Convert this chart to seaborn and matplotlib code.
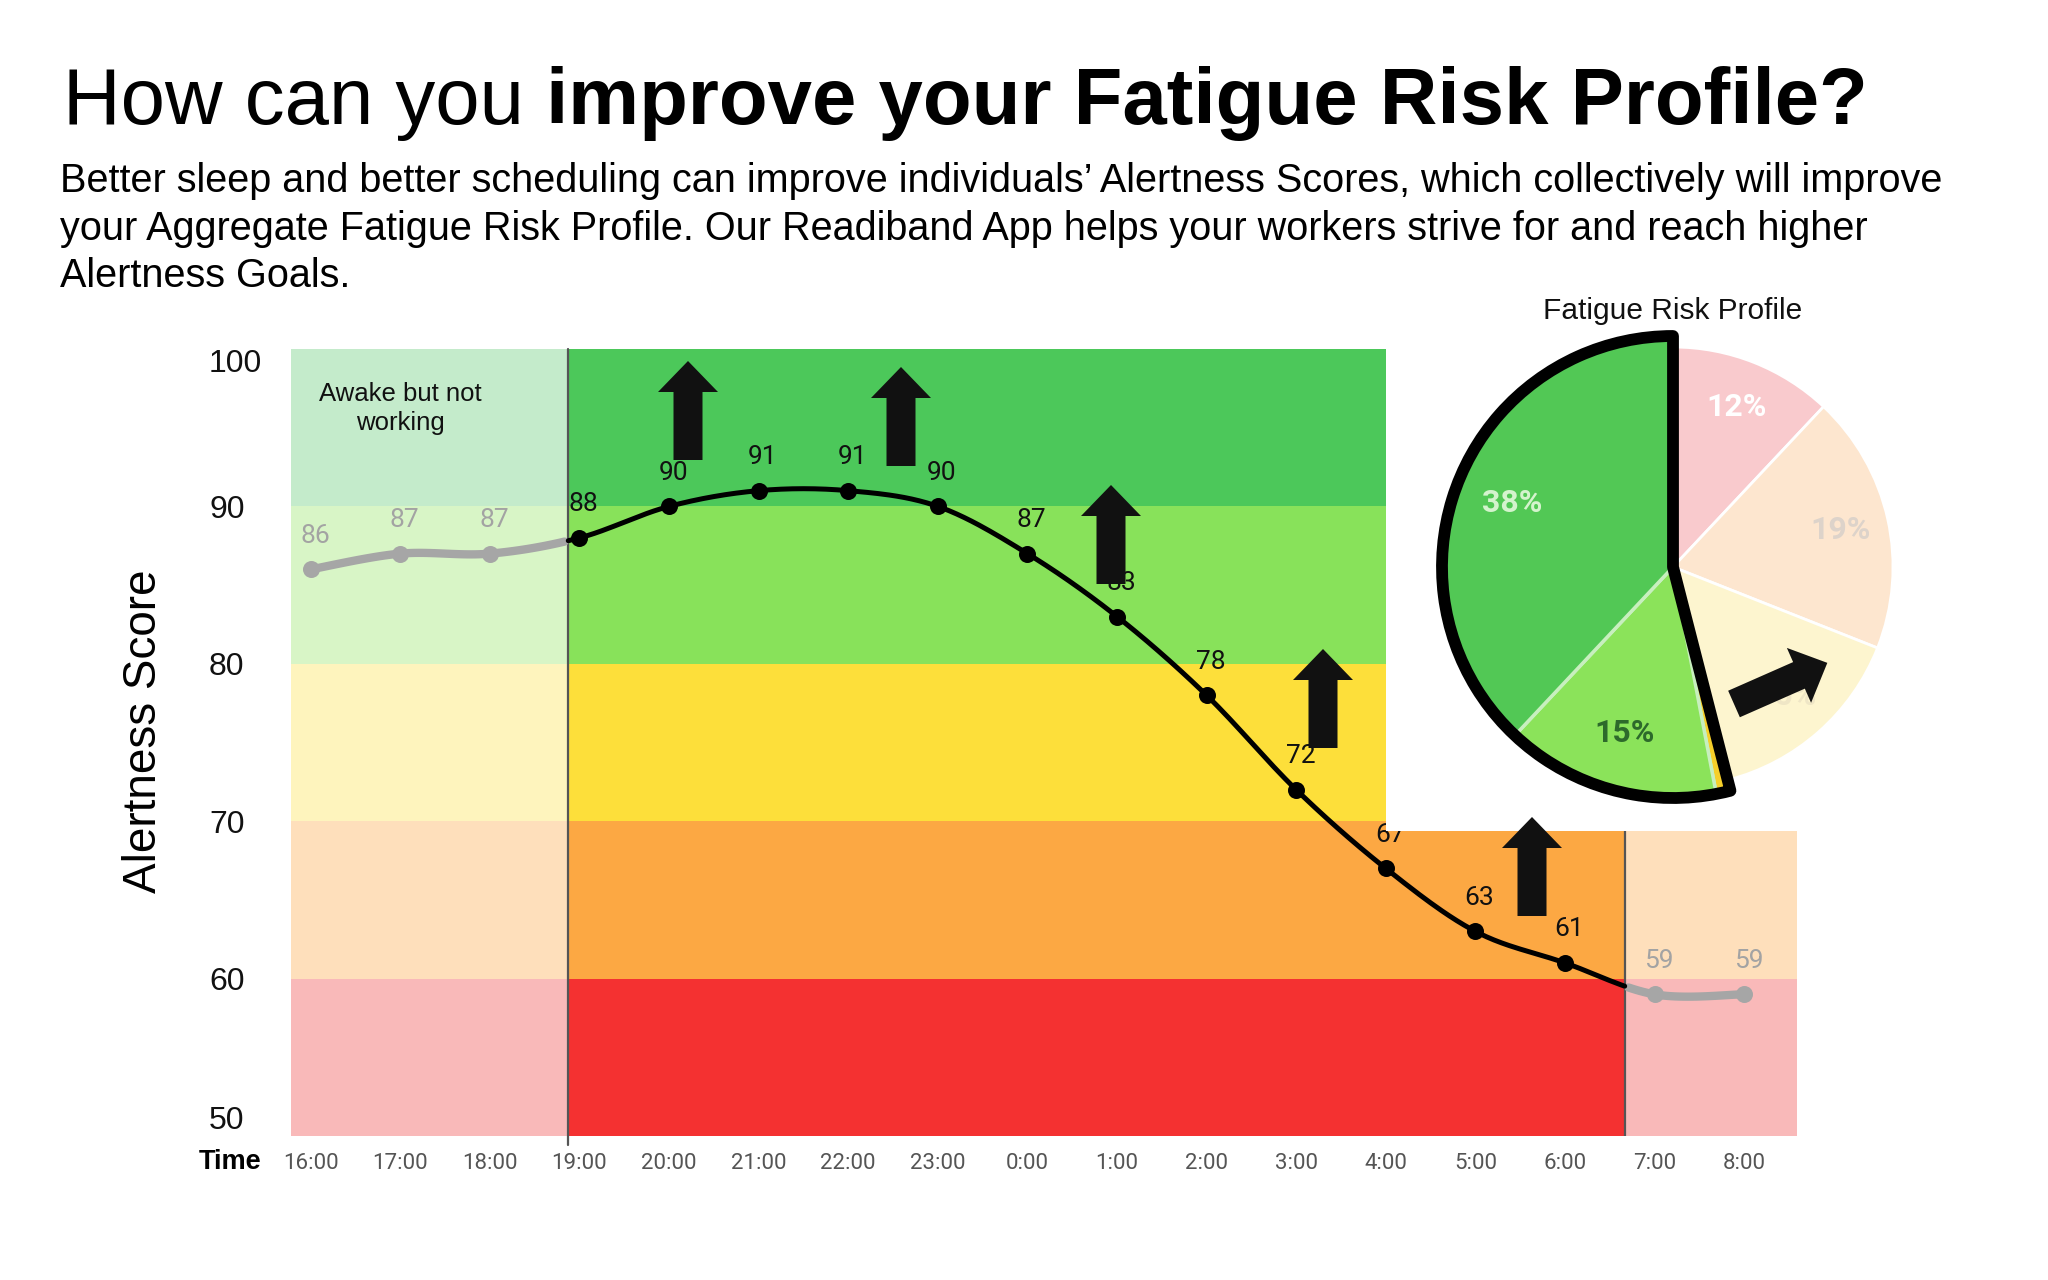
import numpy as np
import matplotlib
matplotlib.use("Agg")
import matplotlib.pyplot as plt
import seaborn as sns
from matplotlib import font_manager
from matplotlib.patches import Wedge, FancyArrow, Rectangle

# ---- data ----
times = ['16:00', '17:00', '18:00', '19:00', '20:00', '21:00', '22:00', '23:00', '0:00',
         '1:00', '2:00', '3:00', '4:00', '5:00', '6:00', '7:00', '8:00']
scores = [86, 87, 87, 88, 90, 91, 91, 90, 87, 83, 78, 72, 67, 63, 61, 59, 59]
band_edges = [50, 60, 70, 80, 90, 100]
band_strong = ['#f43131', '#fca843', '#fddf3a', '#88e25a', '#4cc85a']
band_pale = ['#f9b9b9', '#fedfbb', '#fef4bd', '#d8f5c6', '#c4ebcb']
pie_values = [12, 19, 15, 1, 15, 38]
pie_pale = ['#f9cacd', '#fde6cf', '#fdf5cf', '#fdf5cf', '#fdf5cf', '#fdf5cf']
pie_hi = ['none', 'none', 'none', '#f6cf2a', '#8be35a', '#52c855']
shift_start, shift_end = 2.87, 14.67   # shift boundaries (18:52 / 6:40)

sns.set_theme(style='white')
names = {f.name for f in font_manager.fontManager.ttflist}
plt.rcParams['font.family'] = ['Liberation Sans', 'DejaVu Sans']
NARROW = 'Liberation Sans Narrow' if 'Liberation Sans Narrow' in names else 'Roboto'

W, H = 2048, 1280
fig = plt.figure(figsize=(W / 100, H / 100), dpi=100)


def frac(l, t, r, b):
    return [l / W, 1 - b / H, (r - l) / W, (b - t) / H]


def smooth(xv, yv, n=24):
    # Catmull-Rom curve through the points, only for drawing the line
    pts = np.column_stack([xv, yv]).astype(float)
    p = np.vstack([pts[0], pts, pts[-1]])
    t = np.linspace(0, 1, n, endpoint=False)[:, None]
    out = []
    for i in range(1, len(p) - 2):
        p0, p1, p2, p3 = p[i - 1], p[i], p[i + 1], p[i + 2]
        out.append(0.5 * (2 * p1 + (-p0 + p2) * t + (2 * p0 - 5 * p1 + 4 * p2 - p3) * t ** 2
                          + (-p0 + 3 * p1 - 3 * p2 + p3) * t ** 3))
    out.append(pts[-1:])
    return np.vstack(out)


# ---- main chart ----
ax = fig.add_axes(frac(291, 349, 1797, 1136))
x = np.arange(len(times))
y = np.array(scores)
xmin, xmax = -0.22, 16.59
ax.set_xlim(xmin, xmax)
ax.set_ylim(50, 100)

for lo, hi, cs, cp in zip(band_edges[:-1], band_edges[1:], band_strong, band_pale):
    ax.fill_between([xmin, shift_start], lo, hi, color=cp, lw=0, zorder=0)
    ax.fill_between([shift_start, shift_end], lo, hi, color=cs, lw=0, zorder=0)
    ax.fill_between([shift_end, xmax], lo, hi, color=cp, lw=0, zorder=0)

ax.plot([shift_start, shift_start], [49.4, 100], color='#555555', lw=1.6, clip_on=False, zorder=2)
ax.plot([shift_end, shift_end], [50, 100], color='#555555', lw=1.6, zorder=2)

curve = smooth(x, y)
cx, cy = curve[:, 0], curve[:, 1]
work = (cx >= shift_start) & (cx <= shift_end)
left = cx <= shift_start
right = cx >= shift_end
sns.lineplot(x=cx[left], y=cy[left], ax=ax, color='#a6a6a6', lw=6, zorder=3)
sns.lineplot(x=cx[right], y=cy[right], ax=ax, color='#a6a6a6', lw=6, zorder=3)
sns.lineplot(x=cx[work], y=cy[work], ax=ax, color='black', lw=3.6, sort=False, zorder=3)

on_shift = (x > shift_start) & (x < shift_end)
sns.scatterplot(x=x[~on_shift], y=y[~on_shift], ax=ax, color='#a6a6a6', s=150, linewidth=0, zorder=4)
sns.scatterplot(x=x[on_shift], y=y[on_shift], ax=ax, color='black', s=150, linewidth=0, zorder=4)

for xi, yi, on in zip(x, y, on_shift):
    ax.annotate(f'{yi}', (xi, yi), xytext=(3, 19), textcoords='offset points',
                ha='center', va='baseline', fontsize=19, family=NARROW,
                color='#111111' if on else '#a3a3a3', zorder=5)

# white background of the pie picture
ax.add_patch(Rectangle((12.0, 69.4), xmax - 12.0, 31, fc='white', ec='none', zorder=6))

ax.text(1.0, 96.2, 'Awake but not\nworking', ha='center', va='center', fontsize=18.5,
        linespacing=1.25, color='#111111', zorder=5)

ax.set_xticks(x)
ax.set_xticklabels(times, fontsize=16, family=NARROW, color='#555555')
ax.set_yticks(band_edges)
ax.set_yticklabels([str(v) for v in band_edges], fontsize=23, color='#111111')
ax.tick_params(length=0)
ax.tick_params(axis='x', pad=12)
ax.tick_params(axis='y', pad=59)
ylbls = ax.get_yticklabels()
for lbl in ylbls:
    lbl.set_ha('left')
ylbls[0].set_va('bottom')   # 50 sits just inside the bottom edge
ylbls[-1].set_va('top')     # 100 sits just inside the top edge
ax.set_xlabel('')
ax.set_ylabel('')
sns.despine(ax=ax, left=True, bottom=True)
ax.grid(False)

# ---- pie ----
pax = fig.add_axes(frac(1431, 325, 1915, 809))
fmt = lambda p: f'{p:.0f}%'
w1, _, a1 = pax.pie(pie_values, colors=pie_pale, startangle=90, counterclock=False, radius=1.0,
                    autopct=fmt, pctdistance=0.78, wedgeprops=dict(ec='white', lw=2),
                    textprops=dict(family=NARROW, weight='bold', fontsize=23))
w2, _, a2 = pax.pie(pie_values, colors=pie_hi, startangle=90, counterclock=False, radius=1.05,
                    autopct=fmt, pctdistance=0.75, wedgeprops=dict(ec='#c8efbf', lw=2.5),
                    textprops=dict(family=NARROW, weight='bold', fontsize=23))
for w in w2[:3]:
    w.set_visible(False)
for t in list(a2[:4]) + list(a1[3:]):
    t.set_visible(False)
for t, c in zip(a1[:3], ['white', '#ddd3ca', '#efe6c6']):
    t.set_color(c)
a2[4].set_color('#2d6a2b')
a2[5].set_color('#d4f3cd')
th1 = min(w.theta1 for w in w2[3:])
th2 = max(w.theta2 for w in w2[3:])
pax.add_patch(Wedge((0, 0), 1.05, th1, th2, fill=False, ec='black', lw=8.5,
                    joinstyle='round', zorder=5))
pax.set_xlim(-1.1, 1.1)
pax.set_ylim(-1.1, 1.1)
pax.set_aspect('equal')
pax.axis('off')

# ---- overlay: titles and arrows (pixel coordinates) ----
ov = fig.add_axes([0, 0, 1, 1])
ov.set_xlim(0, W)
ov.set_ylim(H, 0)
ov.axis('off')
ov.set_zorder(10)
ov.patch.set_alpha(0)

t_norm = ov.text(63, 124, 'How can you', fontsize=57.4, ha='left', va='baseline', color='black')
renderer = fig.canvas.get_renderer()
bb = t_norm.get_window_extent(renderer=renderer)
ov.text(bb.x1 + 22, 124, 'improve your Fatigue Risk Profile?', fontsize=57.4, weight='bold',
        ha='left', va='baseline', color='black')

subtitle = ['Better sleep and better scheduling can improve individuals\u2019 Alertness Scores, which collectively will improve',
            'your Aggregate Fatigue Risk Profile. Our Readiband App helps your workers strive for and reach higher',
            'Alertness Goals.']
for i, line in enumerate(subtitle):
    ov.text(60, 192 + 47.5 * i, line, fontsize=28.5, ha='left', va='baseline', color='black')

ov.text(1673, 311, 'Fatigue Risk Profile', fontsize=21.5, ha='center', va='center', color='#111111')
ov.text(144, 731, 'Alertness Score', fontsize=33, rotation=90, ha='center', va='center', color='black')
ov.text(230, 1162, 'Time', fontsize=19.5, weight='bold', ha='center', va='center', color='black')

arrow_tails = [(688, 460), (901, 466), (1111, 584), (1323, 748), (1532, 916)]
for ax0, ay0 in arrow_tails:
    ov.add_patch(FancyArrow(ax0, ay0, 0, -99, width=29, head_width=60, head_length=31,
                            length_includes_head=True, fc='#111111', ec='none'))
d = np.array([93.0, -41.0])
d = d / np.hypot(*d) * 102
ov.add_patch(FancyArrow(1734, 704, d[0], d[1], width=29, head_width=60, head_length=31,
                        length_includes_head=True, fc='#111111', ec='none'))

fig.savefig('out.png', dpi=100)
